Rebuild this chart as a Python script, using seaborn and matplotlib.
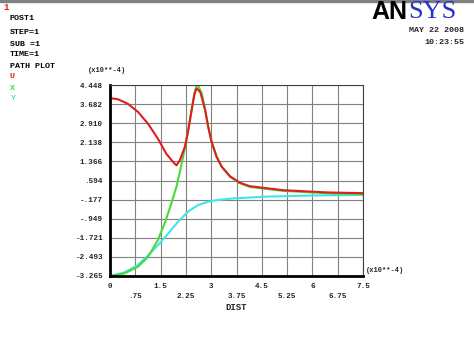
import numpy as np
import pandas as pd
import matplotlib
matplotlib.use("Agg")
import matplotlib.pyplot as plt
import seaborn as sns

# ---- data (x10**-4) ----
u_dist = [0, 0.24, 0.53, 0.83, 1.13, 1.42, 1.67, 1.87, 1.97, 2.07, 2.22, 2.31, 2.42, 2.50, 2.56,
          2.62, 2.68, 2.75, 2.82, 2.91, 3.01, 3.16, 3.31, 3.56, 3.85, 4.15, 5.14, 6.42, 7.5]
u_vals = [3.92, 3.87, 3.69, 3.36, 2.88, 2.28, 1.67, 1.34, 1.20, 1.41, 1.95, 2.55, 3.44, 4.05, 4.30,
          4.25, 4.15, 3.80, 3.44, 2.77, 2.16, 1.55, 1.15, 0.76, 0.50, 0.36, 0.20, 0.11, 0.08]
x_dist = [0, 0.43, 0.83, 1.13, 1.42, 1.62, 1.82, 1.97, 2.07, 2.27, 2.42, 2.50, 2.57, 2.64, 2.72,
          2.82, 2.91, 3.01, 3.16, 3.31, 3.56, 3.85, 4.15, 5.14, 6.42, 7.5]
x_vals = [-3.265, -3.16, -2.89, -2.49, -1.81, -1.14, -0.33, 0.34, 0.93, 2.23, 3.44, 4.10, 4.448,
          4.35, 4.11, 3.44, 2.77, 2.16, 1.55, 1.15, 0.74, 0.48, 0.33, 0.17, 0.08, 0.03]
y_dist = [0, 0.43, 0.83, 1.13, 1.42, 1.72, 2.01, 2.31, 2.61, 2.90, 3.06, 3.66, 4.65, 6.13, 7.5]
y_vals = [-3.265, -3.12, -2.82, -2.43, -2.02, -1.56, -1.08, -0.67, -0.40, -0.27, -0.22, -0.13,
          -0.06, -0.01, 0.01]

series_names = ["Y", "X", "U"]
ytick_vals = [4.448, 3.676, 2.904, 2.132, 1.360, 0.588, -0.177, -0.949, -1.721, -2.493, -3.265]
ytick_labels = ["4.448", "3.682", "2.910", "2.138", "1.366", ".594", "-.177", "-.949",
                "-1.721", "-2.493", "-3.265"]
xtick_vals = [0, 0.75, 1.5, 2.25, 3, 3.75, 4.5, 5.25, 6, 6.75, 7.5]
xtick_labels = ["0", ".75", "1.5", "2.25", "3", "3.75", "4.5", "5.25", "6", "6.75", "7.5"]

df = pd.concat([
    pd.DataFrame({"dist": y_dist, "value": y_vals, "series": "Y"}),
    pd.DataFrame({"dist": x_dist, "value": x_vals, "series": "X"}),
    pd.DataFrame({"dist": u_dist, "value": u_vals, "series": "U"}),
], ignore_index=True)

colors = {"U": "#e01e1e", "X": "#4ad83a", "Y": "#3ee6e6"}

sns.set_style("white")
mono = ["Liberation Mono", "DejaVu Sans Mono"]
plt.rcParams["font.family"] = mono

fig = plt.figure(figsize=(4.74, 3.6), dpi=100)
ax = fig.add_axes([110 / 474, 1 - 276 / 360, 253 / 474, 191 / 360])

sns.lineplot(data=df, x="dist", y="value", hue="series", hue_order=series_names,
             palette=colors, estimator=None, sort=False, legend=False, linewidth=1.5, ax=ax)

ax.set_xlim(0, 7.5)
ax.set_ylim(-3.265, 4.448)
ax.set_xticks(xtick_vals)
ax.set_xticklabels([lab if i % 2 == 0 else "\n" + lab for i, lab in enumerate(xtick_labels)],
                   fontsize=5.5, fontweight="bold", linespacing=1.6)
ax.set_yticks(ytick_vals)
ax.set_yticklabels(ytick_labels, fontsize=5.5, fontweight="bold")
ax.grid(True, color="#808080", linewidth=0.8)
ax.set_axisbelow(True)
ax.tick_params(axis="both", length=3, width=0.8, color="#404040", pad=2)
ax.set_xlabel("DIST", fontsize=6.5, fontweight="bold", labelpad=2)
ax.set_ylabel("")
for s in ["left", "bottom"]:
    ax.spines[s].set_linewidth(2.0)
    ax.spines[s].set_color("black")
for s in ["top", "right"]:
    ax.spines[s].set_linewidth(0.8)
    ax.spines[s].set_color("#404040")

# annotations
fig.text(88 / 474, 1 - 71 / 360, "(x10**-4)", fontsize=5, fontweight="bold", va="center")
fig.text(366 / 474, 1 - 270 / 360, "(x10**-4)", fontsize=5, fontweight="bold", va="center")

fig.text(3 / 474, 1 - 8 / 360, "1", fontsize=6.5, fontweight="bold", color="#e01e1e", va="center")
left_lines = [("POST1", 18, "black"), ("STEP=1", 33, "black"), ("SUB =1", 44, "black"),
              ("TIME=1", 55, "black"), ("PATH PLOT", 66, "black"),
              ("U", 77, "#e01e1e"), ("X", 88, "#4ad83a"), ("Y", 99, "#3ee6e6")]
for txt, yy, c in left_lines:
    fig.text(10 / 474, 1 - yy / 360, txt, fontsize=6, fontweight="bold", color=c, va="center")

fig.text(371 / 474, 1 - 12 / 360, "AN", fontsize=18, fontweight="bold", color="black",
         va="center", family=["Liberation Sans", "DejaVu Sans"])
fig.text(408 / 474, 1 - 12 / 360, "SYS", fontsize=19, color="#2233cc",
         va="center", family=["Liberation Serif", "DejaVu Serif"])
fig.text(464 / 474, 1 - 31 / 360, "MAY 22 2008", fontsize=6, fontweight="bold", ha="right", va="center")
fig.text(464 / 474, 1 - 42 / 360, "10:23:55", fontsize=6, fontweight="bold", ha="right", va="center")

fig.patches.append(plt.Rectangle((0, 1 - 2 / 360), 1, 2 / 360, transform=fig.transFigure,
                                 color="#808080", zorder=0))

fig.savefig("out.png", dpi=100, facecolor="white")
